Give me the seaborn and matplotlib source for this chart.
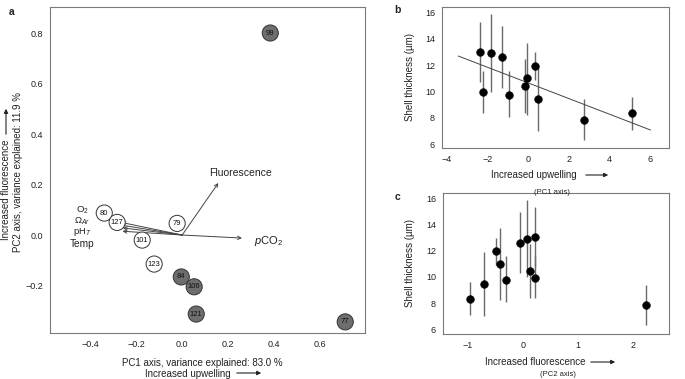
import numpy as np
import pandas as pd
import matplotlib
matplotlib.use("Agg")
import matplotlib.pyplot as plt
import seaborn as sns

# ---------------- data ----------------
# Panel a: PCA site scores
site_ids = ["99", "80", "127", "79", "101", "123", "84", "106", "121", "77"]
site_pc1 = [0.383, -0.339, -0.283, -0.022, -0.174, -0.122, -0.004, 0.052, 0.061, 0.709]
site_pc2 = [0.800, 0.087, 0.050, 0.046, -0.020, -0.115, -0.166, -0.205, -0.313, -0.344]
site_group = ["grey", "white", "white", "white", "white", "white", "grey", "grey", "grey", "grey"]

# Panel a: variable loadings (arrows)
var_names = ["Fluorescence", "pCO2", "O2", "ΩAr", "pHT", "Temp"]
var_pc1 = [0.157, 0.260, -0.265, -0.270, -0.258, -0.260]
var_pc2 = [0.206, -0.012, 0.050, 0.040, 0.028, 0.015]
var_label_text = ["Fluorescence", r"$p$CO$_2$", r"O$_2$", r"$\Omega_{Ar}$", r"pH$_T$", "Temp"]
var_label_x = [0.252, 0.375, -0.435, -0.435, -0.435, -0.435]
var_label_y = [0.245, -0.024, 0.100, 0.055, 0.010, -0.034]
var_label_size = [7.5, 8, 6.8, 6.8, 6.8, 7.3]

# Panels b, c: shell thickness vs PC scores (11 samples)
pc1_score = [-2.36, -2.20, -1.82, -1.30, -0.92, -0.15, -0.03, 0.34, 0.51, 2.75, 5.10]
pc2_score = [0.22, 0.22, 0.08, -0.05, -0.31, 0.13, -0.41, -0.49, -0.70, 2.25, -0.95]
thickness = [13.03, 9.95, 12.90, 12.62, 9.77, 10.42, 11.00, 11.94, 9.45, 7.86, 8.33]
err_low = [10.75, 8.38, 9.98, 10.27, 8.08, 8.38, 8.20, 10.90, 7.00, 6.30, 7.10]
err_high = [15.31, 11.57, 15.86, 14.98, 11.57, 12.50, 13.72, 12.97, 11.93, 9.40, 9.60]

# Panel b regression line
reg_x = [-3.43, 6.03]
reg_y = [12.70, 7.07]

# ---------------- style ----------------
sns.set_theme(style="white")
plt.rcParams["font.family"] = ["Liberation Sans", "DejaVu Sans"]
plt.rcParams["mathtext.fontset"] = "custom"
plt.rcParams["mathtext.rm"] = "Liberation Sans"
plt.rcParams["mathtext.it"] = "Liberation Sans:italic"

W, H = 685, 379
fig = plt.figure(figsize=(W / 100, H / 100), dpi=100)
fig.patch.set_facecolor("white")

def fx(x):
    return x / W

def fy(y):
    return 1 - y / H

def axes_px(l, t, r, b):
    return fig.add_axes([fx(l), fy(b), (r - l) / W, (b - t) / H])

TXT = "#222222"
FRAME = "#7a7a7a"

def style_ax(ax):
    for s in ax.spines.values():
        s.set_color(FRAME)
        s.set_linewidth(0.8)
        s.set_visible(True)
    ax.tick_params(axis="both", direction="out", length=3, width=0.6,
                   color=FRAME, labelsize=6.5, labelcolor=TXT, pad=2)
    ax.set_xlabel("")
    ax.set_ylabel("")

# ---------------- panel a ----------------
axa = axes_px(50, 7, 365, 333)
df_a = pd.DataFrame({"pc1": site_pc1, "pc2": site_pc2, "group": site_group, "id": site_ids})

# arrows from origin
for name, vx, vy in zip(var_names, var_pc1, var_pc2):
    axa.annotate("", xy=(vx, vy), xytext=(0, 0),
                 arrowprops=dict(arrowstyle="->", color="#444444", lw=0.7,
                                 shrinkA=0, shrinkB=0, mutation_scale=6),
                 zorder=2)

sns.scatterplot(data=df_a, x="pc1", y="pc2", hue="group",
                palette={"grey": "#6e6e6e", "white": "white"},
                edgecolor="#333333", linewidth=0.7, s=135, legend=False,
                ax=axa, zorder=3)
for sid, x, y in zip(site_ids, site_pc1, site_pc2):
    axa.text(x, y, sid, ha="center", va="center", fontsize=5.5, color="#111111", zorder=4)

for t, x, y, fs in zip(var_label_text, var_label_x, var_label_y, var_label_size):
    axa.text(x, y, t, ha="center", va="center", fontsize=fs, color=TXT, zorder=4)

axa.set_xlim(-0.575, 0.795)
axa.set_ylim(-0.388, 0.903)
axa.set_xticks([-0.4, -0.2, 0.0, 0.2, 0.4, 0.6])
axa.set_yticks([-0.2, 0.0, 0.2, 0.4, 0.6, 0.8])
fmt = matplotlib.ticker.FuncFormatter(lambda v, p: f"{v:.1f}".replace("-", "\u2212"))
axa.xaxis.set_major_formatter(fmt)
axa.yaxis.set_major_formatter(fmt)
style_ax(axa)

def harrow(x0, x1, y):
    fig.add_artist(matplotlib.patches.FancyArrowPatch(
        (fx(x0), fy(y)), (fx(x1), fy(y)), transform=fig.transFigure,
        arrowstyle="-|>", mutation_scale=6, lw=0.8, color="#222222"))

def varrow(x, y0, y1):
    fig.add_artist(matplotlib.patches.FancyArrowPatch(
        (fx(x), fy(y0)), (fx(x), fy(y1)), transform=fig.transFigure,
        arrowstyle="-|>", mutation_scale=6, lw=0.8, color="#222222"))

fig.text(fx(202), fy(363), "PC1 axis, variance explained: 83.0 %", ha="center", va="center",
         fontsize=7, color=TXT)
fig.text(fx(188), fy(374), "Increased upwelling", ha="center", va="center", fontsize=7, color=TXT)
harrow(234, 264, 373)

fig.text(fx(18), fy(172), "PC2 axis, variance explained: 11.9 %", ha="center", va="center",
         rotation=90, fontsize=7, color=TXT)
fig.text(fx(6), fy(190), "Increased fluorescence", ha="center", va="center",
         rotation=90, fontsize=7, color=TXT)
varrow(6, 137, 106)

fig.text(fx(12), fy(12), "a", ha="center", va="center", fontsize=7.5, fontweight="bold", color=TXT)

# ---------------- panel b ----------------
df_bc = pd.DataFrame({"pc1": pc1_score, "pc2": pc2_score, "th": thickness,
                      "lo": err_low, "hi": err_high})

def thick_panel(ax, xcol):
    ax.vlines(df_bc[xcol], df_bc["lo"], df_bc["hi"], color="#6a6a6a", lw=1.0, zorder=1)
    sns.scatterplot(data=df_bc, x=xcol, y="th", color="black", s=32, edgecolor="black",
                    linewidth=0.3, ax=ax, zorder=3, legend=False)
    ax.set_yticks([6, 8, 10, 12, 14, 16])
    style_ax(ax)

axb = axes_px(442, 7, 669, 148)
sns.lineplot(x=reg_x, y=reg_y, color="#444444", lw=0.7, ax=axb, zorder=2)
thick_panel(axb, "pc1")
axb.set_xlim(-4.23, 6.94)
axb.set_ylim(5.70, 16.43)
axb.set_xticks([-4, -2, 0, 2, 4, 6])

fig.text(fx(410), fy(77), "Shell thickness (µm)", ha="center", va="center", rotation=90,
         fontsize=7, color=TXT)
fig.text(fx(534), fy(175), "Increased upwelling", ha="center", va="center", fontsize=7, color=TXT)
harrow(583, 611, 175)
fig.text(fx(552), fy(193), "(PC1 axis)", ha="center", va="center", fontsize=5.5, color=TXT)
fig.text(fx(397), fy(10), "b", ha="center", va="center", fontsize=7.5, fontweight="bold", color=TXT)

# ---------------- panel c ----------------
axc = axes_px(443, 193, 669, 334)
thick_panel(axc, "pc2")
axc.set_xlim(-1.45, 2.66)
axc.set_ylim(5.64, 16.40)
axc.set_xticks([-1, 0, 1, 2])

fig.text(fx(410), fy(263), "Shell thickness (µm)", ha="center", va="center", rotation=90,
         fontsize=7, color=TXT)
fig.text(fx(535), fy(362), "Increased fluorescence", ha="center", va="center", fontsize=7, color=TXT)
harrow(588, 618, 362)
fig.text(fx(558), fy(374), "(PC2 axis)", ha="center", va="center", fontsize=5.5, color=TXT)
fig.text(fx(397), fy(197), "c", ha="center", va="center", fontsize=7.5, fontweight="bold", color=TXT)

fig.savefig("out.png", dpi=100, facecolor="white")
